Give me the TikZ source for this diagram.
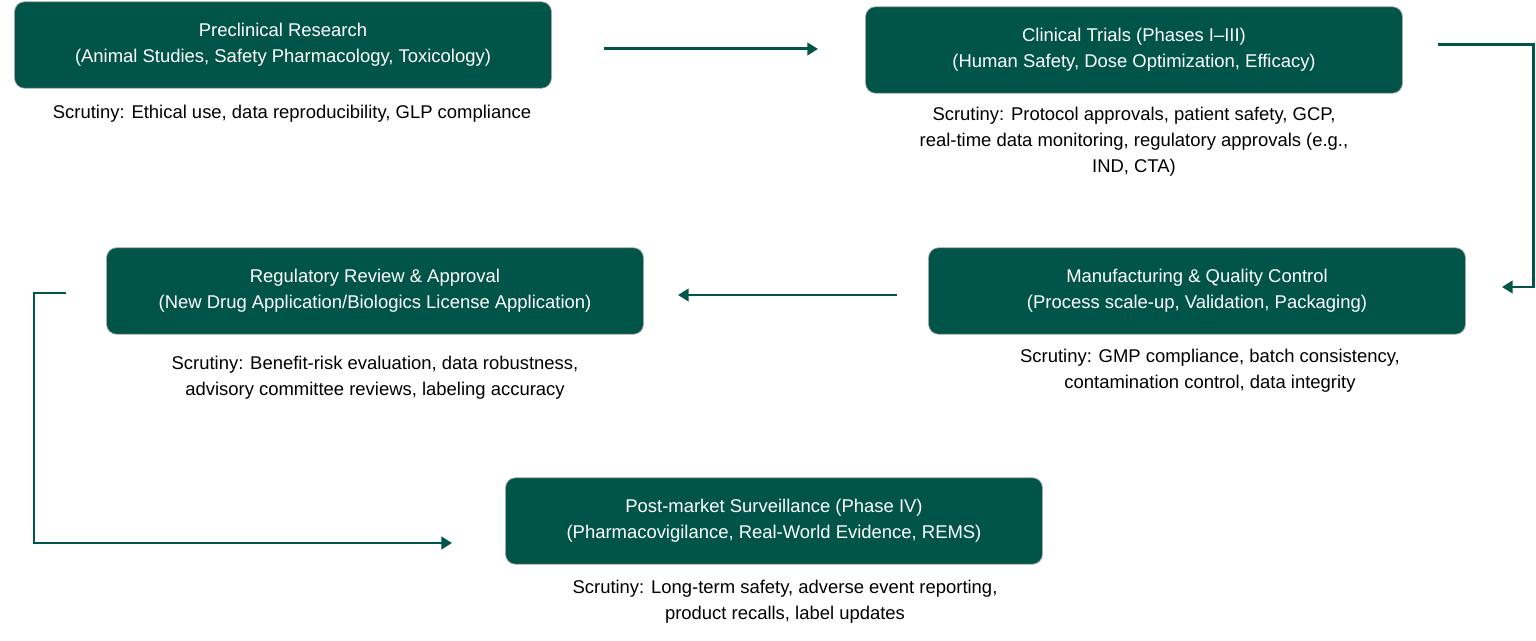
\documentclass[tikz,border=0pt]{standalone}
\usepackage{fontspec}
\setmainfont{Liberation Sans}
\usetikzlibrary{arrows.meta}
\definecolor{teal}{RGB}{0,84,72}
\begin{document}
\begin{tikzpicture}[x=0.02cm,y=-0.02cm,
every node/.style={font=\fontsize{10.5}{14.7}\selectfont,align=center},
stage/.style={fill=teal,draw=gray!70,rounded corners=0.2cm,text=white,minimum width=10.74cm,minimum height=1.73cm,inner sep=0pt},
note/.style={text=black,inner sep=0pt},
flow/.style={draw=teal,line width=1.7pt,-{Triangle[length=6pt,width=7pt]}}]
\useasboundingbox (0,0) rectangle (1536,641);
\node[stage] (pre) at (283,45) {Preclinical Research\\(Animal Studies, Safety Pharmacology, Toxicology)};
\node[note] (preS) at (292,114) {Scrutiny: Ethical use, data reproducibility, GLP compliance};
\node[stage] (clin) at (1134,50) {Clinical Trials (Phases I--III)\\(Human Safety, Dose Optimization, Efficacy)};
\node[note] (clinS) at (1134,142) {Scrutiny: Protocol approvals, patient safety, GCP,\\real-time data monitoring, regulatory approvals (e.g.,\\IND, CTA)};
\node[stage] (man) at (1197,291) {Manufacturing \& Quality Control\\(Process scale-up, Validation, Packaging)};
\node[note] (manS) at (1210,371) {Scrutiny: GMP compliance, batch consistency,\\contamination control, data integrity};
\node[stage] (reg) at (375,291) {Regulatory Review \& Approval\\(New Drug Application/Biologics License Application)};
\node[note] (regS) at (375,378) {Scrutiny: Benefit-risk evaluation, data robustness,\\advisory committee reviews, labeling accuracy};
\node[stage] (post) at (774,521) {Post-market Surveillance (Phase IV)\\(Pharmacovigilance, Real-World Evidence, REMS)};
\node[note] (postS) at (785,602) {Scrutiny: Long-term safety, adverse event reporting,\\product recalls, label updates};
% connectors
\coordinate (a1) at (604,49); \coordinate (a2) at (818,49);
\coordinate (b1) at (1438,45); \coordinate (b2) at (1502,287);
\coordinate (c1) at (897,295); \coordinate (c2) at (678,295);
\coordinate (d1) at (66,293); \coordinate (d2) at (452,543);
\draw[flow] (a1) -- (a2);
\draw[flow] (b1) -- (1533,45) -- (1533,287) -- (b2);
\draw[flow] (c1) -- (c2);
\draw[flow] (d1) -- (34,293) -- (34,543) -- (d2);
\end{tikzpicture}
\end{document}
